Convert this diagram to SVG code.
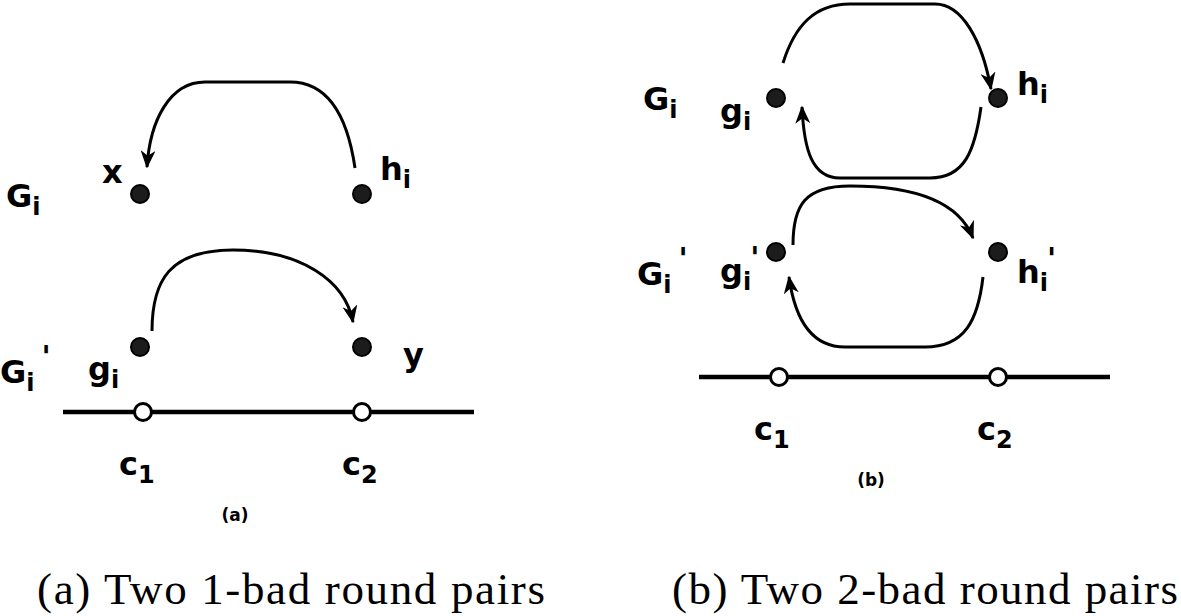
<svg xmlns="http://www.w3.org/2000/svg" width="1181" height="616" viewBox="0 0 1181 616">
<style>
.lbl{font-family:"DejaVu Sans","Noto Sans",sans-serif;font-weight:bold;font-size:32px;fill:#000}
.sub{font-size:24px}
.pr{font-family:"DejaVu Sans",sans-serif;font-weight:bold;font-size:30px;fill:#000}
.small{font-family:"DejaVu Sans",sans-serif;font-weight:bold;font-size:17px;fill:#000}
.cap{font-family:"Liberation Serif",serif;font-size:45px;fill:#000}
.dot{fill:#1c1c1c;stroke:#000;stroke-width:2}
.open{fill:#fff;stroke:#000;stroke-width:3}
.arc{fill:none;stroke:#000;stroke-width:3;marker-end:url(#ah)}
.base{stroke:#000;stroke-width:4.5}
</style>
<defs>
<marker id="ah" viewBox="0 0 12 10" refX="11" refY="5" markerWidth="6" markerHeight="5" markerUnits="strokeWidth" orient="auto">
<path d="M0,0 L12,5 L0,10 L3.5,5 z" fill="#000"/>
</marker>
</defs>

<g id="panel-a">
<g id="a-labels">
<text class="lbl" x="6" y="207">G<tspan class="sub" dy="8">i</tspan></text>
<text class="lbl" x="0" y="383">G<tspan class="sub" dy="8">i</tspan><tspan class="pr" dx="7" dy="-24">'</tspan></text>
</g>
<g id="a-line"><line class="base" x1="63" y1="412" x2="474" y2="412"/></g>
<g id="a-x"><circle class="dot" cx="140" cy="194" r="9"/><text class="lbl" x="102" y="183">x</text></g>
<g id="a-h"><circle class="dot" cx="362" cy="194" r="9"/><text class="lbl" x="380" y="180">h<tspan class="sub" dy="8">i</tspan></text></g>
<g id="a-g"><circle class="dot" cx="140" cy="347" r="9"/><text class="lbl" x="88" y="380">g<tspan class="sub" dy="8">i</tspan></text></g>
<g id="a-y"><circle class="dot" cx="362" cy="347" r="9"/><text class="lbl" x="403" y="366">y</text></g>
<g id="a-c1"><circle class="open" cx="143" cy="412" r="8.5"/><text class="lbl" x="119" y="475">c<tspan class="sub" dy="8">1</tspan></text></g>
<g id="a-c2"><circle class="open" cx="362" cy="412" r="8.5"/><text class="lbl" x="342" y="475">c<tspan class="sub" dy="8">2</tspan></text></g>
<text class="small" x="235" y="521" text-anchor="middle">(a)</text>
</g>

<g id="panel-b">
<g id="b-labels">
<text class="lbl" x="643" y="110">G<tspan class="sub" dy="8">i</tspan></text>
<text class="lbl" x="637" y="285">G<tspan class="sub" dy="8">i</tspan><tspan class="pr" dx="7" dy="-24">'</tspan></text>
</g>
<g id="b-line"><line class="base" x1="699" y1="377" x2="1110" y2="377"/></g>
<g id="b-g"><circle class="dot" cx="776" cy="98" r="9"/><text class="lbl" x="720" y="122">g<tspan class="sub" dy="8">i</tspan></text></g>
<g id="b-h"><circle class="dot" cx="998" cy="98" r="9"/><text class="lbl" x="1017" y="95">h<tspan class="sub" dy="8">i</tspan></text></g>
<g id="b-g2"><circle class="dot" cx="776" cy="252" r="9"/><text class="lbl" x="720" y="282">g<tspan class="sub" dy="8">i</tspan><tspan class="pr" dx="-1" dy="-22">'</tspan></text></g>
<g id="b-h2"><circle class="dot" cx="998" cy="252" r="9"/><text class="lbl" x="1017" y="283">h<tspan class="sub" dy="8">i</tspan><tspan class="pr" dx="-1" dy="-22">'</tspan></text></g>
<g id="b-c1"><circle class="open" cx="779" cy="377" r="8.5"/><text class="lbl" x="754" y="440">c<tspan class="sub" dy="8">1</tspan></text></g>
<g id="b-c2"><circle class="open" cx="998" cy="377" r="8.5"/><text class="lbl" x="977" y="440">c<tspan class="sub" dy="8">2</tspan></text></g>
<text class="small" x="871" y="486" text-anchor="middle">(b)</text>
</g>

<g id="connectors">
<path class="arc" d="M355,168 C348,120 330,82 290,82 L205,82 C170,82 150,120 147,167"/>
<path class="arc" d="M152,331 C152,280 170,250 233,250 C300,250 345,280 353,322"/>
<path class="arc" d="M783,63 C795,25 815,4 850,4 L935,4 C962,4 982,40 991,89"/>
<path class="arc" d="M981,107 C975,150 965,178 930,178 L840,178 C812,178 804,150 802,107"/>
<path class="arc" d="M793,245 C793,205 805,186 850,186 C920,186 960,205 973,238"/>
<path class="arc" d="M983,277 C978,320 965,347 925,347 L845,347 C812,347 795,320 789,277"/>
</g>

<g id="captions">
<text class="cap" x="37" y="604" textLength="508" lengthAdjust="spacing">(a) Two 1-bad round pairs</text>
<text class="cap" x="672" y="604" textLength="506" lengthAdjust="spacing">(b) Two 2-bad round pairs</text>
</g>
</svg>
